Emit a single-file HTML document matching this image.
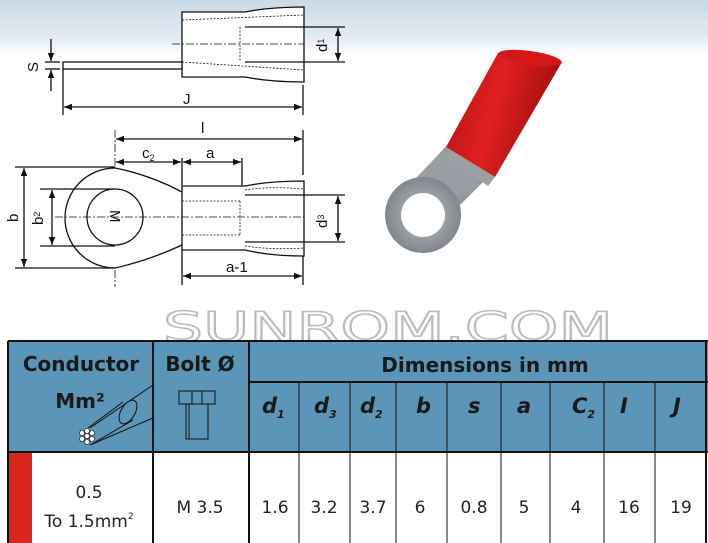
<!DOCTYPE html>
<html><head><meta charset="utf-8"><style>
html,body{margin:0;padding:0;background:#fff}
body{width:708px;height:543px;overflow:hidden;position:relative;font-family:"Liberation Sans",sans-serif}
</style></head><body>
<svg width="708" height="543" viewBox="0 0 708 543" xmlns="http://www.w3.org/2000/svg" style="position:absolute;left:0;top:0">
<defs>
<linearGradient id="sky" x1="0" y1="0" x2="0" y2="1">
<stop offset="0" stop-color="#c9d9e6"/><stop offset="0.7" stop-color="#e3ecf3"/><stop offset="1" stop-color="#ffffff"/>
</linearGradient>
<linearGradient id="red" x1="0" y1="0" x2="1" y2="0.3">
<stop offset="0" stop-color="#b01010"/><stop offset="0.5" stop-color="#e02020"/><stop offset="1" stop-color="#a00d0d"/>
</linearGradient>
<radialGradient id="metal" cx="0.5" cy="0.5" r="0.6">
<stop offset="0.5" stop-color="#9a9ea3"/><stop offset="1" stop-color="#777b80"/>
</radialGradient>
<marker id="ar" viewBox="0 0 10 10" refX="10" refY="5" markerWidth="8" markerHeight="8" orient="auto-start-reverse" markerUnits="userSpaceOnUse"><path d="M0,1 L10,5 L0,9 z" fill="#111"/></marker>
</defs>
<rect x="0" y="0" width="708" height="55" fill="url(#sky)"/>

<!-- Photo -->
<g>
<polygon points="452,140 495,170 455,210 400,195" fill="url(#metal)"/>
<circle cx="423" cy="215" r="38" fill="url(#metal)"/>
<circle cx="423" cy="215" r="22" fill="#fff"/>
<polygon points="498,53 562,62 495,177 446,147" fill="url(#red)"/>
<ellipse cx="530" cy="58" rx="32" ry="7" fill="#d21818" transform="rotate(8 530 58)"/>
<polygon points="446,147 495,177 488,186 450,160" fill="#9ca0a4"/>
</g>

<!-- Drawing -->
<g stroke="#111" stroke-width="1.3" fill="none">
<path d="M182,12 H245 Q270,7 304,7 V82 Q270,82 245,77 H182 Z" fill="#fff"/>
<rect x="63" y="62" width="119" height="7" fill="#fff"/>
<g stroke-dasharray="2,1.5" stroke-width="0.8">
<line x1="182" y1="20" x2="304" y2="15"/><line x1="182" y1="62" x2="304" y2="70"/>
<line x1="240" y1="27" x2="240" y2="62"/>
</g>
<line x1="172" y1="44" x2="304" y2="44" stroke-dasharray="8,2,2,2" stroke-width="0.8"/>
<line x1="245" y1="27" x2="345" y2="27"/><line x1="245" y1="62" x2="345" y2="62"/>
<line x1="338" y1="28" x2="338" y2="61" marker-start="url(#ar)" marker-end="url(#ar)"/>
<line x1="51" y1="39" x2="51" y2="61" marker-end="url(#ar)"/>
<line x1="51" y1="91" x2="51" y2="70" marker-end="url(#ar)"/>
<line x1="45" y1="62" x2="60" y2="62"/><line x1="45" y1="69" x2="60" y2="69"/>
<line x1="63" y1="69" x2="63" y2="115"/><line x1="303" y1="85" x2="303" y2="115"/>
<line x1="64" y1="107" x2="302" y2="107" marker-start="url(#ar)" marker-end="url(#ar)"/>
<line x1="115" y1="130" x2="115" y2="287" stroke-dasharray="8,2,2,2" stroke-width="0.8"/>
<line x1="303" y1="130" x2="303" y2="175"/>
<line x1="116" y1="139" x2="302" y2="139" marker-start="url(#ar)" marker-end="url(#ar)"/>
<line x1="116" y1="162" x2="181" y2="162" marker-start="url(#ar)" marker-end="url(#ar)"/>
<line x1="183" y1="162" x2="241" y2="162" marker-start="url(#ar)" marker-end="url(#ar)"/>
<line x1="182" y1="158" x2="182" y2="186"/><line x1="242" y1="158" x2="242" y2="186"/>
<path d="M182,192 Q150,175 115,168 A50,50 0 1 0 115,268 Q150,260 182,245" fill="#fff"/>
<circle cx="115" cy="217" r="28"/>
<path d="M182,186 H245 Q270,181 304,181 V256 Q270,256 245,250 H182 Z" fill="#fff"/>
<g stroke-dasharray="2,1.5" stroke-width="0.8">
<line x1="182" y1="201" x2="240" y2="201"/><line x1="182" y1="235" x2="240" y2="235"/>
<path d="M240,201 L240,235"/><path d="M245,190 Q270,186 304,189"/><path d="M245,246 Q270,250 304,248"/>
</g>
<line x1="55" y1="217" x2="304" y2="217" stroke-dasharray="8,2,2,2" stroke-width="0.8"/>
<line x1="245" y1="195" x2="345" y2="195"/><line x1="245" y1="242" x2="345" y2="242"/>
<line x1="338" y1="196" x2="338" y2="241" marker-start="url(#ar)" marker-end="url(#ar)"/>
<line x1="15" y1="167" x2="115" y2="167"/><line x1="15" y1="268" x2="115" y2="268"/>
<line x1="24" y1="168" x2="24" y2="267" marker-start="url(#ar)" marker-end="url(#ar)"/>
<line x1="40" y1="189" x2="115" y2="189"/><line x1="40" y1="246" x2="115" y2="246"/>
<line x1="52" y1="190" x2="52" y2="245" marker-start="url(#ar)" marker-end="url(#ar)"/>
<line x1="303" y1="256" x2="303" y2="285"/><line x1="182" y1="250" x2="182" y2="285"/>
<line x1="183" y1="276" x2="302" y2="276" marker-start="url(#ar)" marker-end="url(#ar)"/>
</g>
<g font-family="Liberation Sans, DejaVu Sans, sans-serif" font-size="15" fill="#111">
<text x="183" y="104">J</text>
<text x="201" y="133">l</text>
<text x="142" y="158">c<tspan font-size="9" dy="3">2</tspan></text>
<text x="206" y="158">a</text>
<text x="226" y="272">a-1</text>
<text transform="translate(38,72) rotate(-90)">S</text>
<text transform="translate(327,52) rotate(-90)">d<tspan font-size="9" dy="-3">1</tspan></text>
<text transform="translate(327,228) rotate(-90)">d<tspan font-size="9" dy="-3">3</tspan></text>
<text transform="translate(18,222) rotate(-90)">b</text>
<text transform="translate(43,225) rotate(-90)">b<tspan font-size="9" dy="-3">2</tspan></text>
<text transform="translate(110,210) rotate(90)">M</text>
</g>

<text x="388" y="342" text-anchor="middle" font-family="DejaVu Sans, sans-serif" font-size="42" fill="#fff" stroke="#bbb" stroke-width="1.5" textLength="450" lengthAdjust="spacingAndGlyphs">SUNROM.COM</text>

<rect x="8" y="341" width="700" height="111" fill="#5b95b8"/>
<rect x="8" y="452" width="24" height="91" fill="#d9261c"/>
<g stroke="#111" stroke-width="2" fill="none">
<line x1="8" y1="341" x2="708" y2="341"/>
<line x1="249" y1="382" x2="708" y2="382"/>
<line x1="8" y1="452" x2="708" y2="452"/>
<line x1="8" y1="341" x2="8" y2="543"/>
<line x1="153" y1="341" x2="153" y2="543"/>
<line x1="249" y1="341" x2="249" y2="543"/>
<line x1="706" y1="341" x2="706" y2="543"/>
</g>
<g stroke="#111" stroke-width="1" fill="none">
<line x1="299" y1="382" x2="299" y2="543"/><line x1="350" y1="382" x2="350" y2="543"/>
<line x1="396" y1="382" x2="396" y2="543"/><line x1="447" y1="382" x2="447" y2="543"/>
<line x1="501" y1="382" x2="501" y2="543"/><line x1="550" y1="382" x2="550" y2="543"/>
<line x1="604" y1="382" x2="604" y2="543"/><line x1="655" y1="382" x2="655" y2="543"/>
<line x1="153" y1="385" x2="90" y2="428"/><line x1="153" y1="418" x2="90" y2="445"/>
<ellipse cx="128" cy="412" rx="7" ry="13" transform="rotate(30 128 412)" fill="#5b95b8"/>
<line x1="123" y1="402" x2="88" y2="428"/><line x1="133" y1="420" x2="92" y2="444"/>
<rect x="179" y="391" width="36" height="13"/>
<line x1="192" y1="391" x2="192" y2="404"/><line x1="202" y1="391" x2="202" y2="404"/>
<rect x="186" y="404" width="22" height="35"/><line x1="189" y1="404" x2="189" y2="439"/>
</g>
<g fill="#fff" stroke="#111" stroke-width="0.6">
<circle cx="87" cy="436" r="2.5"/><circle cx="82" cy="433" r="2.5"/><circle cx="92" cy="433" r="2.5"/>
<circle cx="82" cy="439" r="2.5"/><circle cx="92" cy="439" r="2.5"/><circle cx="87" cy="431" r="2.5"/><circle cx="87" cy="442" r="2.5"/>
</g>
<g font-family="DejaVu Sans, Liberation Sans, sans-serif" font-weight="bold" fill="#1a1a1a" font-size="20">
<text x="81" y="371" text-anchor="middle">Conductor</text>
<text x="80" y="408" text-anchor="middle">Mm²</text>
<text x="200" y="371" text-anchor="middle">Bolt Ø</text>
<text x="485" y="372" text-anchor="middle">Dimensions in mm</text>
</g>
<g font-family="DejaVu Sans, Liberation Sans, sans-serif" font-weight="bold" font-style="italic" fill="#1a1a1a" font-size="21">
<text x="262" y="413">d<tspan font-size="11" dy="5">1</tspan></text>
<text x="314" y="413">d<tspan font-size="11" dy="5">3</tspan></text>
<text x="360" y="413">d<tspan font-size="11" dy="5">2</tspan></text>
<text x="416" y="413">b</text>
<text x="468" y="413">s</text>
<text x="517" y="413">a</text>
<text x="572" y="413">C<tspan font-size="11" dy="5">2</tspan></text>
<text x="620" y="413">I</text>
<text x="673" y="413">J</text>
</g>
<g font-family="DejaVu Sans, Liberation Sans, sans-serif" fill="#222" font-size="17" text-anchor="middle">
<text x="89" y="498">0.5</text>
<text x="89" y="527">To 1.5mm<tspan font-size="9" dy="-8">2</tspan></text>
<text x="200" y="513">M 3.5</text>
<text x="275" y="513">1.6</text><text x="324" y="513">3.2</text><text x="373" y="513">3.7</text>
<text x="420" y="513">6</text><text x="474" y="513">0.8</text><text x="524" y="513">5</text>
<text x="576" y="513">4</text><text x="629" y="513">16</text><text x="681" y="513">19</text>
</g>
</svg>
</body></html>
